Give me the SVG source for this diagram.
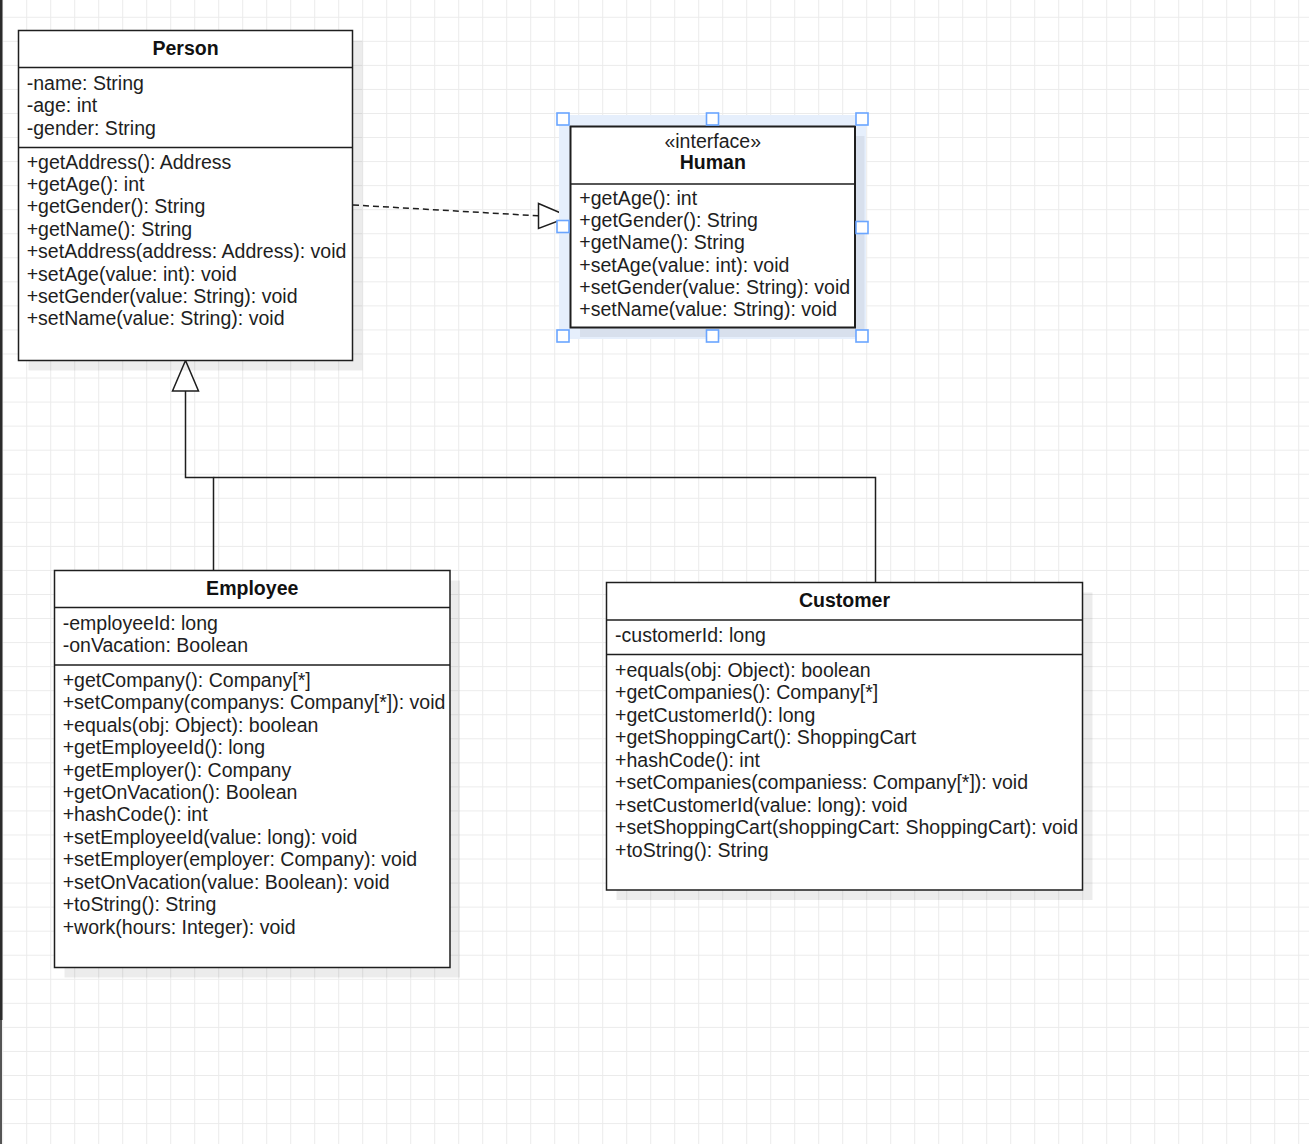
<svg xmlns="http://www.w3.org/2000/svg" width="1309" height="1144" viewBox="0 0 1309 1144">
<style>
.box{fill:#fff;stroke:#1e1e1e;stroke-width:1.5}
.sh{fill:#000;opacity:0.075}
.sep{stroke:#1e1e1e;stroke-width:1.5}
.t{font-family:"Liberation Sans",Arial,sans-serif;font-size:19.55px;fill:#1e1e1e}
.b{font-family:"Liberation Sans",Arial,sans-serif;font-size:19.55px;font-weight:bold;fill:#111;text-anchor:middle}
.c{text-anchor:middle}
.edge{fill:none;stroke:#1e1e1e;stroke-width:1.5}
.h{fill:#fff;stroke:#6aa5ff;stroke-width:1.6}
</style>
<defs>
<pattern id="grid" patternUnits="userSpaceOnUse" x="2.2" y="16.8" width="24" height="24.05">
<path d="M0.5,0 V24.05 M0,0.5 H24" fill="none" stroke="#ebebeb" stroke-width="1"/>
</pattern>
</defs>
<rect width="1309" height="1144" fill="#fff"/>
<rect width="1309" height="1144" fill="url(#grid)"/>
<rect x="0" y="0" width="2.5" height="1020" fill="#2b2b2b"/>
<rect x="0" y="1020" width="2" height="124" fill="#555"/>

<g id="connectors">
<path class="edge" d="M353,205 L538.5,215.8" stroke-dasharray="6,4"/>
<polygon class="edge" style="fill:#fff" points="538.5,203.5 569.5,216.7 538.5,228.5"/>
<path class="edge" d="M213.5,570.5 V477.5 H185.5 V391"/>
<path class="edge" d="M875.5,582.5 V477.5 H213.5"/>
<polygon class="edge" style="fill:#fff" points="185.5,360.5 172.5,391 198.5,391"/>
</g>

<g id="person">
<rect class="sh" x="28.5" y="40.5" width="334" height="330"/>
<rect class="box" x="18.5" y="30.5" width="334" height="330"/>
<line class="sep" x1="18.5" y1="67.5" x2="352.5" y2="67.5"/>
<line class="sep" x1="18.5" y1="147.5" x2="352.5" y2="147.5"/>
<text class="b" x="185.5" y="55">Person</text>
<text class="t" x="26.7" y="89.8">-name: String</text>
<text class="t" x="26.7" y="112.2">-age: int</text>
<text class="t" x="26.7" y="134.6">-gender: String</text>
<text class="t" x="26.7" y="168.5">+getAddress(): Address</text>
<text class="t" x="26.7" y="190.9">+getAge(): int</text>
<text class="t" x="26.7" y="213.3">+getGender(): String</text>
<text class="t" x="26.7" y="235.7">+getName(): String</text>
<text class="t" x="26.7" y="258.1">+setAddress(address: Address): void</text>
<text class="t" x="26.7" y="280.5">+setAge(value: int): void</text>
<text class="t" x="26.7" y="302.9">+setGender(value: String): void</text>
<text class="t" x="26.7" y="325.3">+setName(value: String): void</text>
</g>

<g id="human">
<rect x="559" y="115" width="307" height="224" fill="#e6effc"/>
<rect x="580" y="136" width="284.5" height="201" fill="#000" opacity="0.06"/>
<rect class="box" style="stroke-width:2" x="570.5" y="126.5" width="284.5" height="201"/>
<line class="sep" x1="570.5" y1="184" x2="855" y2="184"/>
<text class="t c" x="712.75" y="147.7">«interface»</text>
<text class="b" x="712.75" y="169.3">Human</text>
<text class="t" x="579.3" y="205">+getAge(): int</text>
<text class="t" x="579.3" y="227.2">+getGender(): String</text>
<text class="t" x="579.3" y="249.4">+getName(): String</text>
<text class="t" x="579.3" y="271.6">+setAge(value: int): void</text>
<text class="t" x="579.3" y="293.8">+setGender(value: String): void</text>
<text class="t" x="579.3" y="316">+setName(value: String): void</text>
<rect class="h" x="557" y="113" width="12" height="12"/>
<rect class="h" x="706.5" y="113" width="12" height="12"/>
<rect class="h" x="856" y="113" width="12" height="12"/>
<rect class="h" x="557" y="220.5" width="12" height="12"/>
<rect class="h" x="856" y="221.5" width="12" height="12"/>
<rect class="h" x="557" y="330" width="12" height="12"/>
<rect class="h" x="706.5" y="330" width="12" height="12"/>
<rect class="h" x="856" y="330" width="12" height="12"/>
</g>

<g id="employee">
<rect class="sh" x="64.5" y="580.5" width="395.5" height="397"/>
<rect class="box" x="54.5" y="570.5" width="395.5" height="397"/>
<line class="sep" x1="54.5" y1="607.5" x2="450" y2="607.5"/>
<line class="sep" x1="54.5" y1="665" x2="450" y2="665"/>
<text class="b" x="252.25" y="595">Employee</text>
<text class="t" x="62.7" y="630">-employeeId: long</text>
<text class="t" x="62.7" y="652.4">-onVacation: Boolean</text>
<text class="t" x="62.7" y="686.7">+getCompany(): Company[*]</text>
<text class="t" x="62.7" y="709.2">+setCompany(companys: Company[*]): void</text>
<text class="t" x="62.7" y="731.6">+equals(obj: Object): boolean</text>
<text class="t" x="62.7" y="754.1">+getEmployeeId(): long</text>
<text class="t" x="62.7" y="776.5">+getEmployer(): Company</text>
<text class="t" x="62.7" y="799">+getOnVacation(): Boolean</text>
<text class="t" x="62.7" y="821.4">+hashCode(): int</text>
<text class="t" x="62.7" y="843.9">+setEmployeeId(value: long): void</text>
<text class="t" x="62.7" y="866.3">+setEmployer(employer: Company): void</text>
<text class="t" x="62.7" y="888.8">+setOnVacation(value: Boolean): void</text>
<text class="t" x="62.7" y="911.2">+toString(): String</text>
<text class="t" x="62.7" y="933.7">+work(hours: Integer): void</text>
</g>

<g id="customer">
<rect class="sh" x="616.5" y="592.5" width="476" height="307.5"/>
<rect class="box" x="606.5" y="582.5" width="476" height="307.5"/>
<line class="sep" x1="606.5" y1="620" x2="1082.5" y2="620"/>
<line class="sep" x1="606.5" y1="654.5" x2="1082.5" y2="654.5"/>
<text class="b" x="844.5" y="607.3">Customer</text>
<text class="t" x="615" y="641.7">-customerId: long</text>
<text class="t" x="615" y="676.7">+equals(obj: Object): boolean</text>
<text class="t" x="615" y="699.2">+getCompanies(): Company[*]</text>
<text class="t" x="615" y="721.7">+getCustomerId(): long</text>
<text class="t" x="615" y="744.2">+getShoppingCart(): ShoppingCart</text>
<text class="t" x="615" y="766.7">+hashCode(): int</text>
<text class="t" x="615" y="789.2">+setCompanies(companiess: Company[*]): void</text>
<text class="t" x="615" y="811.7">+setCustomerId(value: long): void</text>
<text class="t" x="615" y="834.2">+setShoppingCart(shoppingCart: ShoppingCart): void</text>
<text class="t" x="615" y="856.7">+toString(): String</text>
</g>
</svg>
